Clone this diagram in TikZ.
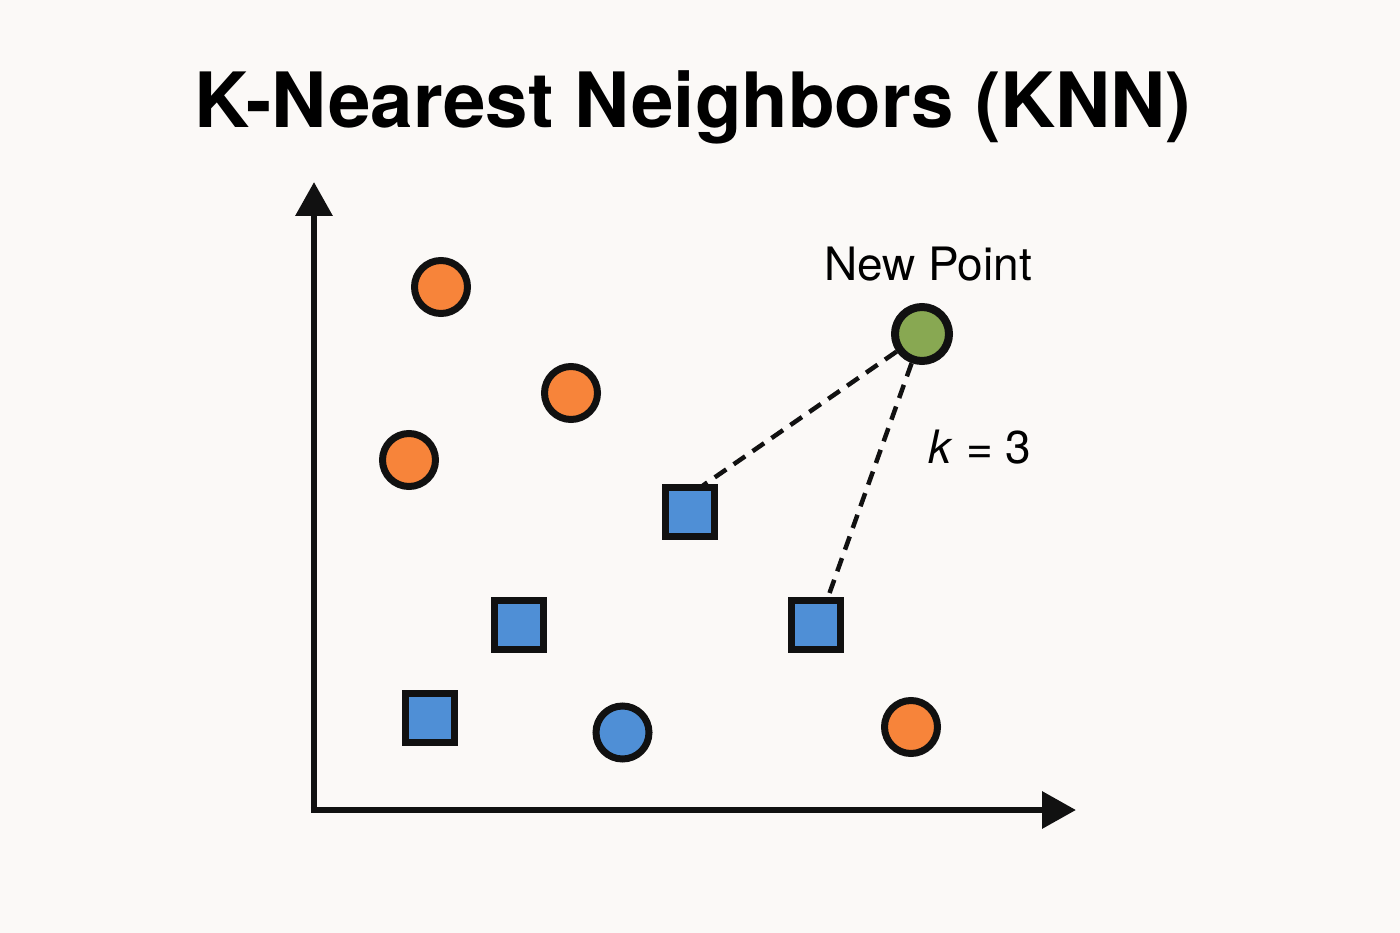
\documentclass[tikz,border=0pt]{standalone}
\usepackage{fontspec}
\setmainfont{TeX Gyre Heros}
\usetikzlibrary{arrows.meta}
\definecolor{bg}{HTML}{FBF9F7}
\definecolor{orangept}{HTML}{F7843A}
\definecolor{bluept}{HTML}{4F8FD6}
\definecolor{greenpt}{HTML}{88A852}
\definecolor{ink}{HTML}{111111}
\tikzset{
  axis/.style={draw=ink, line width=6.5pt, -{Triangle[length=34pt,width=36pt]}},
  ocirc/.style={circle, draw=ink, line width=7pt, fill=orangept, minimum size=53pt, inner sep=0pt},
  bcirc/.style={circle, draw=ink, line width=7pt, fill=bluept, minimum size=53pt, inner sep=0pt},
  gcirc/.style={circle, draw=ink, line width=8pt, fill=greenpt, minimum size=54pt, inner sep=0pt},
  bsq/.style={rectangle, draw=ink, line width=7pt, fill=bluept, minimum size=49pt, inner sep=0pt},
  dashline/.style={draw=ink, line width=4.5pt, dash pattern=on 14pt off 9pt},
}
\begin{document}
\begin{tikzpicture}[x=1pt,y=-1pt]
\useasboundingbox (0,0) rectangle (1400,933);
\fill[bg] (0,0) rectangle (1400,933);
% title
\node[anchor=base, inner sep=0pt, font=\fontsize{76.3}{90}\selectfont\bfseries] (title) at (693,128) {K-Nearest Neighbors (KNN)};
% axes
\coordinate (origin) at (314,810);
\coordinate (ytip) at (314,182);
\coordinate (xtip) at (1076,810);
\draw[axis] ([yshift=3.25pt]origin) -- (ytip);
\draw[axis] ([xshift=-3.25pt]origin) -- (xtip);
% points
\node[ocirc] (o1) at (441,287) {};
\node[ocirc] (o2) at (571,393) {};
\node[ocirc] (o3) at (409,460) {};
\node[ocirc] (o4) at (911,727) {};
\node[bcirc] (b1) at (622.5,732.5) {};
\node[bsq] (s1) at (690,511.5) {};
\node[bsq] (s2) at (815.5,624.5) {};
\node[bsq] (s3) at (519,624.5) {};
\node[bsq] (s4) at (429.5,717.5) {};
\node[gcirc] (g) at (922,334) {};
% labels
\node[anchor=base, inner sep=0pt, font=\fontsize{46}{54}\selectfont] (np) at (928,281) {New Point};
\node[anchor=base, inner sep=0pt, font=\fontsize{46}{54}\selectfont] (k) at (980,463) {\textit{k} = 3};
% dashed connectors
\draw[dashline] (g) -- ([xshift=-15pt,yshift=-2pt]s1.north east);
\draw[dashline] (g) -- ([xshift=11pt,yshift=-5pt]s2.north);
\end{tikzpicture}
\end{document}
